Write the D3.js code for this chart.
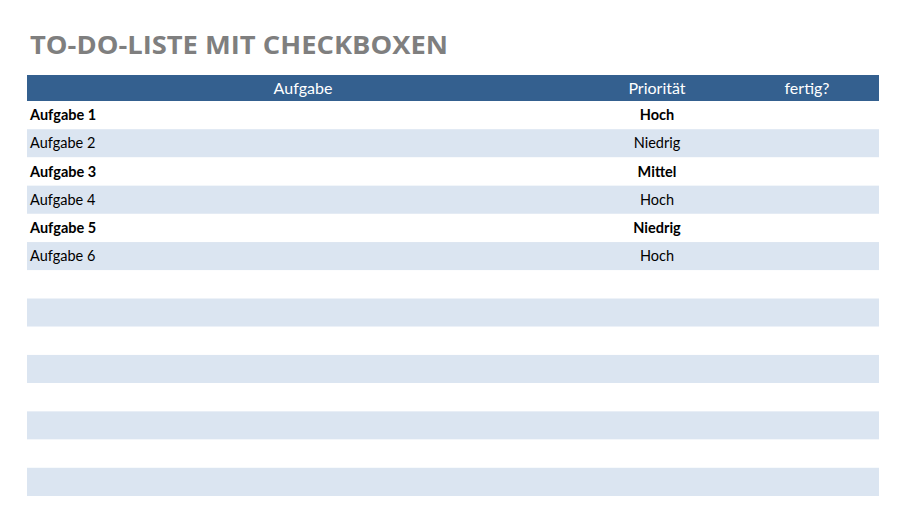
<!DOCTYPE html>
<html><head><meta charset="utf-8">
<script src="https://cdn.jsdelivr.net/npm/d3@7"></script>
<style>body{margin:0;background:#fff}</style>
</head><body><div id="chart"></div>
<script>
const title = 'TO-DO-LISTE MIT CHECKBOXEN'
const headers = ['Aufgabe', 'Priorität', 'fertig?']
const tasks = ['Aufgabe 1', 'Aufgabe 2', 'Aufgabe 3', 'Aufgabe 4', 'Aufgabe 5', 'Aufgabe 6']
const priorities = ['Hoch', 'Niedrig', 'Mittel', 'Hoch', 'Niedrig', 'Hoch']
const rowCount = 14

const width = 900, height = 521
const left = 27, right = 879

const svg = d3.select('#chart').append('svg')
  .attr('width', width).attr('height', height)

svg.append('text')
  .attr('x', 30).attr('y', 54)
  .attr('font-family', 'Open Sans, sans-serif')
  .attr('font-weight', 'bold').attr('font-size', 25)
  .attr('fill', '#7f7f7f')
  .attr('textLength', 418).attr('lengthAdjust', 'spacingAndGlyphs')
  .text(title)

// header bar
svg.append('rect').attr('x', left).attr('y', 75)
  .attr('width', right - left).attr('height', 26).attr('fill', '#34608f')

const colX = [303, 657, 807]
svg.selectAll('.hdr').data(headers).enter().append('text')
  .attr('x', (d, i) => colX[i]).attr('y', 94)
  .attr('text-anchor', 'middle')
  .attr('font-family', 'Lato, sans-serif').attr('font-size', 16)
  .attr('fill', '#fff').text(d => d)

const y = d3.scaleBand().domain(d3.range(rowCount)).range([101, 496])

svg.selectAll('.row').data(d3.range(rowCount)).enter().append('rect')
  .attr('x', left).attr('y', d => y(d))
  .attr('width', right - left).attr('height', y.bandwidth())
  .attr('fill', d => d % 2 ? '#dbe5f1' : '#fff')

const rows = tasks.map((t, i) => ({ task: t, prio: priorities[i], i }))
const g = svg.selectAll('.cell').data(rows).enter().append('g')
  .attr('font-family', 'Lato, sans-serif').attr('font-size', 14.5)
  .attr('fill', '#000')
  .attr('font-weight', d => d.i % 2 ? 'normal' : 'bold')
g.append('text').attr('x', 30).attr('y', d => y(d.i) + y.bandwidth() / 2 + 5).text(d => d.task)
g.append('text').attr('x', 657).attr('text-anchor', 'middle')
  .attr('y', d => y(d.i) + y.bandwidth() / 2 + 5).text(d => d.prio)
</script></body></html>
